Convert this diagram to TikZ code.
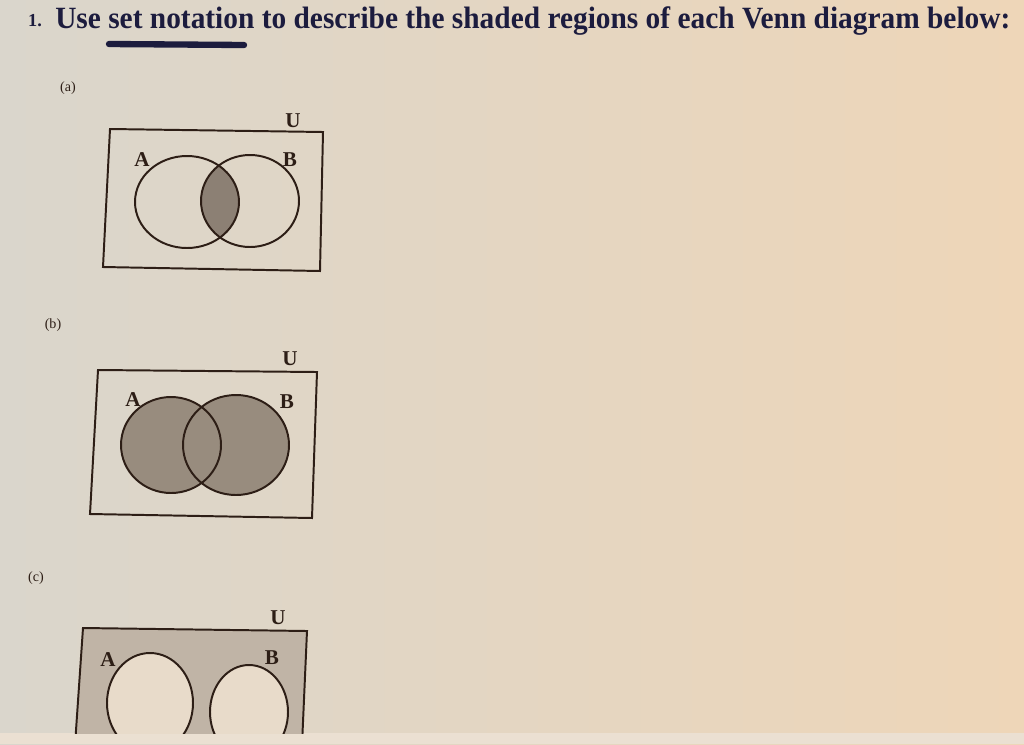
\documentclass[tikz,border=0pt]{standalone}
\usepackage{fontspec}
\setmainfont{Liberation Serif}
\definecolor{paper}{RGB}{232,219,202}
\definecolor{paperL}{RGB}{218,214,204}
\definecolor{paperR}{RGB}{238,214,184}
\definecolor{ink}{RGB}{28,28,62}
\definecolor{lineclr}{RGB}{45,30,22}
\definecolor{shadeA}{RGB}{140,128,116}
\definecolor{shadeB}{RGB}{152,140,126}
\definecolor{shadeC}{RGB}{192,180,166}
\tikzset{
  frame/.style={draw=lineclr, line width=1.4pt},
  ring/.style={draw=lineclr, line width=1.4pt},
  setlbl/.style={font=\bfseries\fontsize{15}{15}\selectfont, text=lineclr, inner sep=0pt},
  partlbl/.style={font=\fontsize{10}{10}\selectfont, text=lineclr, inner sep=0pt}
}
\begin{document}
\begin{tikzpicture}[x=0.025cm, y=-0.025cm]
        \useasboundingbox (0,0) rectangle (1024,744);
        \shade[left color=paperL, right color=paperR] (0,0) rectangle (1024,744);
        \fill[paper!85!white] (0,733) rectangle (1024,744);

        % title
        \node[font=\bfseries\fontsize{13}{13}\selectfont, text=ink, inner sep=0pt] (num) at (35,21) {1.};
        \node[anchor=west, font=\bfseries\fontsize{22}{22}\selectfont, text=ink, xscale=0.95, inner sep=0pt] (title) at (55,21)
            {Use set notation to describe the shaded regions of each Venn diagram below:};
        \coordinate (U1) at (109,44);
        \coordinate (U2) at (244,45);
        \draw[ink, line width=4.5pt, line cap=round] (U1) -- (U2);

        % (a)
        \node[partlbl] (pa) at (68,88) {(a)};
        \coordinate (a1) at (110,129);
        \coordinate (a2) at (323,132);
        \coordinate (a3) at (320,271);
        \coordinate (a4) at (103,267);
        \coordinate (cA1) at (187,202);
        \coordinate (cB1) at (250,201);
        \begin{scope}
            \clip (cA1) ellipse [x radius=52, y radius=46];
            \fill[shadeA] (cB1) ellipse [x radius=49, y radius=46];
        \end{scope}
        \draw[frame] (a1) -- (a2) -- (a3) -- (a4) -- cycle;
        \draw[ring] (cA1) ellipse [x radius=52, y radius=46];
        \draw[ring] (cB1) ellipse [x radius=49, y radius=46];
        \node[setlbl] (UA) at (293,121) {U};
        \node[setlbl] (AA) at (142,160) {A};
        \node[setlbl] (BA) at (290,160) {B};

        % (b)
        \node[partlbl] (pb) at (53,325) {(b)};
        \coordinate (b1) at (98,370);
        \coordinate (b2) at (317,372);
        \coordinate (b3) at (312,518);
        \coordinate (b4) at (90,514);
        \coordinate (cA2) at (171,445);
        \coordinate (cB2) at (236,445);
        \fill[shadeB] (cA2) ellipse [x radius=50, y radius=48];
        \fill[shadeB] (cB2) ellipse [x radius=53, y radius=50];
        \draw[frame] (b1) -- (b2) -- (b3) -- (b4) -- cycle;
        \draw[ring] (cA2) ellipse [x radius=50, y radius=48];
        \draw[ring] (cB2) ellipse [x radius=53, y radius=50];
        \node[setlbl] (UB) at (290,359) {U};
        \node[setlbl] (AB) at (133,400) {A};
        \node[setlbl] (BB) at (287,402) {B};

        % (c)
        \node[partlbl] (pc) at (36,578) {(c)};
        \coordinate (c1) at (83,628);
        \coordinate (c2) at (307,631);
        \coordinate (c3) at (302,745);
        \coordinate (c4) at (75,745);
        \coordinate (cA3) at (150,703);
        \coordinate (cB3) at (249,712);
        \begin{scope}
            \clip (0,0) rectangle (1024,733);
            \fill[shadeC] (c1) -- (c2) -- (c3) -- (c4) -- cycle;
            \fill[paper] (cA3) ellipse [x radius=43, y radius=50];
            \fill[paper] (cB3) ellipse [x radius=39, y radius=47];
            \draw[frame] (c4) -- (c1) -- (c2) -- (c3);
            \draw[ring] (cA3) ellipse [x radius=43, y radius=50];
            \draw[ring] (cB3) ellipse [x radius=39, y radius=47];
        \end{scope}
        \node[setlbl] (UC) at (278,618) {U};
        \node[setlbl] (AC) at (108,660) {A};
        \node[setlbl] (BC) at (272,658) {B};

    \end{tikzpicture}
\end{document}
